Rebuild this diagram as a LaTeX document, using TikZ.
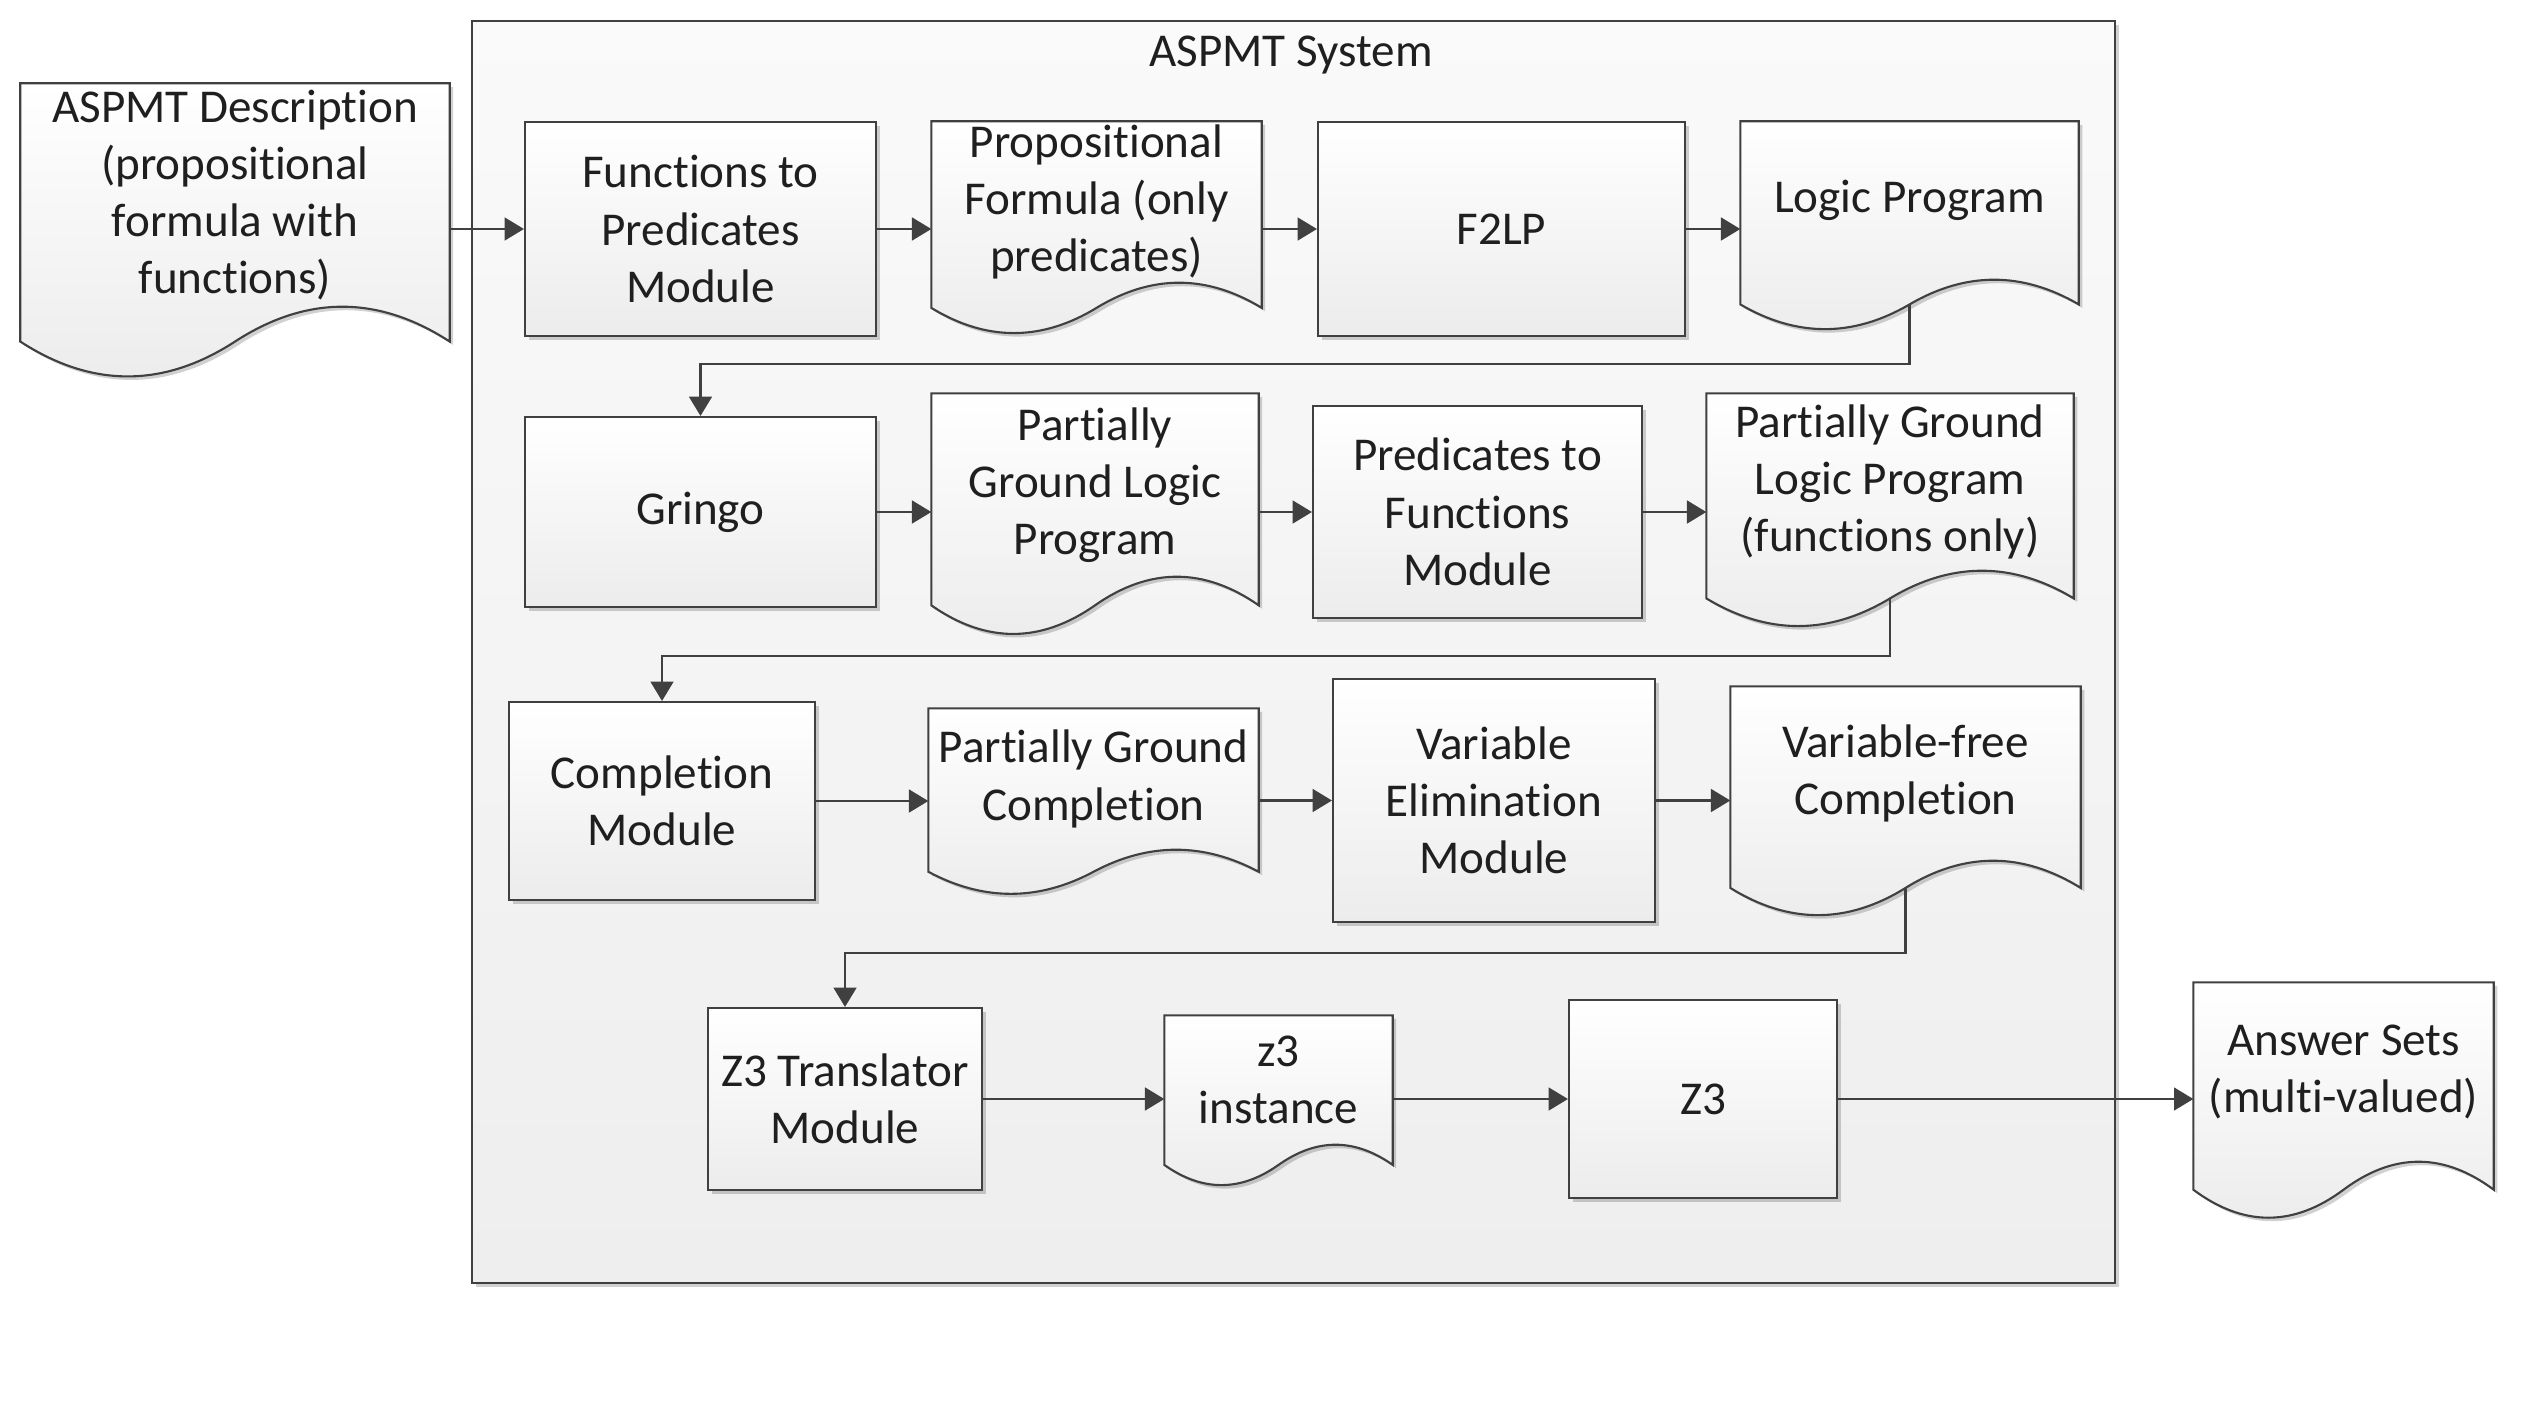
\documentclass[tikz,border=0pt]{standalone}
\usepackage{fontspec}
\setmainfont{Carlito}[Ligatures={NoCommon,NoContextual},Contextuals=NoAlternate,RawFeature={-liga;-clig;-calt}]
\usetikzlibrary{arrows.meta,calc,shadows}

\definecolor{edgegray}{HTML}{404040}
\definecolor{boxbottom}{HTML}{ECECEC}
\definecolor{sysbottom}{HTML}{EEEEEE}

\pgfdeclarelayer{back}
\pgfdeclarelayer{docs}
\pgfsetlayers{back,docs,main}

\tikzset{
  label font/.style={font=\fontsize{13.4}{16.3}\selectfont, text=black!88},
  module/.style={rectangle, draw=edgegray, line width=0.6pt, top color=white,
    bottom color=boxbottom, align=center, inner sep=0pt, label font,
    drop shadow={shadow xshift=1pt, shadow yshift=-1pt, fill=black, opacity=0.18}},
  doc/.style={rectangle, align=center, inner sep=0pt, label font},
  docline/.style={draw=edgegray, line width=0.6pt, top color=white, bottom color=boxbottom,
    drop shadow={shadow xshift=1pt, shadow yshift=-1pt, fill=black, opacity=0.18}},
  sysbox/.style={rectangle, draw=edgegray, line width=0.6pt, top color=white!98!black,
    bottom color=sysbottom, inner sep=0pt,
    drop shadow={shadow xshift=1pt, shadow yshift=-1pt, fill=black, opacity=0.18}},
  flow/.style={draw=edgegray, line width=0.6pt, -{Triangle[length=5.5pt,width=6.5pt]}},
}

% outline of a document node: the node is its text block, the wave hangs below it
\newcommand{\docshape}[1]{%
  \begin{pgfonlayer}{docs}
  \path[docline] let \p1=(#1.north west), \p2=(#1.south east),
      \n1={0.156*(\y1-\y2)}, \n2={(\x2-\x1)/6} in
    (\p1) -- (\x2,\y1) -- (\x2,\y2-\n1)
    .. controls +(-\n2,4*\n1/3) and +(\n2,4*\n1/3) .. ({\x1+3*\n2},{\y2-\n1}) coordinate (#1-low)
    .. controls +(-\n2,-4*\n1/3) and +(\n2,-4*\n1/3) .. (\x1,\y2-\n1) -- cycle;
  \end{pgfonlayer}}

\begin{document}
\begin{tikzpicture}[x=1cm,y=-1cm]
  \useasboundingbox (0,0) rectangle (25.24,14.00);

  \begin{pgfonlayer}{back}
    \node[sysbox, minimum width=16.43cm, minimum height=12.62cm] (sys) at (12.935,6.52) {};
  \end{pgfonlayer}
  \node[label font] (title) at (12.91,0.55) {ASPMT System};

  % row 1
  \node[doc, minimum width=4.28cm, minimum height=2.22cm] (desc) at (2.35,1.95)
    {ASPMT Description\\(propositional\\formula with\\functions)};
  \node[module, minimum width=3.51cm, minimum height=2.14cm] (fpm) at (7.005,2.29)
    {Functions to\\Predicates\\Module};
  \node[doc, minimum width=3.29cm, minimum height=1.60cm] (pf) at (10.965,2.02)
    {Propositional\\Formula (only\\predicates)};
  \node[module, minimum width=3.67cm, minimum height=2.14cm] (f2lp) at (15.015,2.29) {F2LP};
  \node[doc, minimum width=3.37cm, minimum height=1.57cm] (lp) at (19.095,2.005) {Logic Program};

  % row 2
  \node[module, minimum width=3.51cm, minimum height=1.90cm] (gringo) at (7.005,5.12) {Gringo};
  \node[doc, minimum width=3.26cm, minimum height=1.82cm] (pglp) at (10.95,4.85)
    {Partially\\Ground Logic\\Program};
  \node[module, minimum width=3.29cm, minimum height=2.12cm] (pfm) at (14.775,5.12)
    {Predicates to\\Functions\\Module};
  \node[doc, minimum width=3.66cm, minimum height=1.76cm] (pglpf) at (18.90,4.82)
    {Partially Ground\\Logic Program\\(functions only)};

  % row 3
  \node[module, minimum width=3.06cm, minimum height=1.98cm] (comp) at (6.62,8.01)
    {Completion\\Module};
  \node[doc, minimum width=3.29cm, minimum height=1.40cm] (pgc) at (10.935,7.79)
    {Partially Ground\\Completion};
  \node[module, minimum width=3.22cm, minimum height=2.43cm] (vem) at (14.94,8.005)
    {Variable\\Elimination\\Module};
  \node[doc, minimum width=3.49cm, minimum height=1.73cm] (vfc) at (19.055,7.735)
    {Variable-free\\Completion};

  % row 4
  \node[module, minimum width=2.74cm, minimum height=1.82cm] (z3t) at (8.45,10.99)
    {Z3 Translator\\Module};
  \node[doc, minimum width=2.27cm, minimum height=1.28cm] (z3i) at (12.785,10.80)
    {z3\\instance};
  \node[module, minimum width=2.68cm, minimum height=1.98cm] (z3) at (17.03,10.99) {Z3};
  \node[doc, minimum width=2.99cm, minimum height=1.78cm] (ans) at (23.435,10.72)
    {Answer Sets\\(multi-valued)};

  \docshape{desc}
  \docshape{pf}
  \docshape{lp}
  \docshape{pglp}
  \docshape{pglpf}
  \docshape{pgc}
  \docshape{vfc}
  \docshape{z3i}
  \docshape{ans}

  \begin{scope}[flow]
    \draw (desc.east |- fpm.west) -- (fpm.west);
    \draw (fpm.east) -- (fpm.east -| pf.west);
    \draw (pf.east |- f2lp.west) -- (f2lp.west);
    \draw (f2lp.east) -- (f2lp.east -| lp.west);
    \draw (lp-low) -- ++(0,0.60) -| (gringo.north);
    \draw (gringo.east) -- (gringo.east -| pglp.west);
    \draw (pglp.east |- pfm.west) -- (pfm.west);
    \draw (pfm.east) -- (pfm.east -| pglpf.west);
    \draw (pglpf-low) -- ++(0,0.58) -| (comp.north);
    \draw (comp.east) -- (comp.east -| pgc.west);
    \draw (pgc.east |- vem.west) -- (vem.west);
    \draw (vem.east) -- (vem.east -| vfc.west);
    \draw (vfc-low) -- ++(0,0.65) -| (z3t.north);
    \draw (z3t.east) -- (z3t.east -| z3i.west);
    \draw (z3i.east |- z3.west) -- (z3.west);
    \draw (z3.east) -- (z3.east -| ans.west);
  \end{scope}
\end{tikzpicture}
\end{document}
